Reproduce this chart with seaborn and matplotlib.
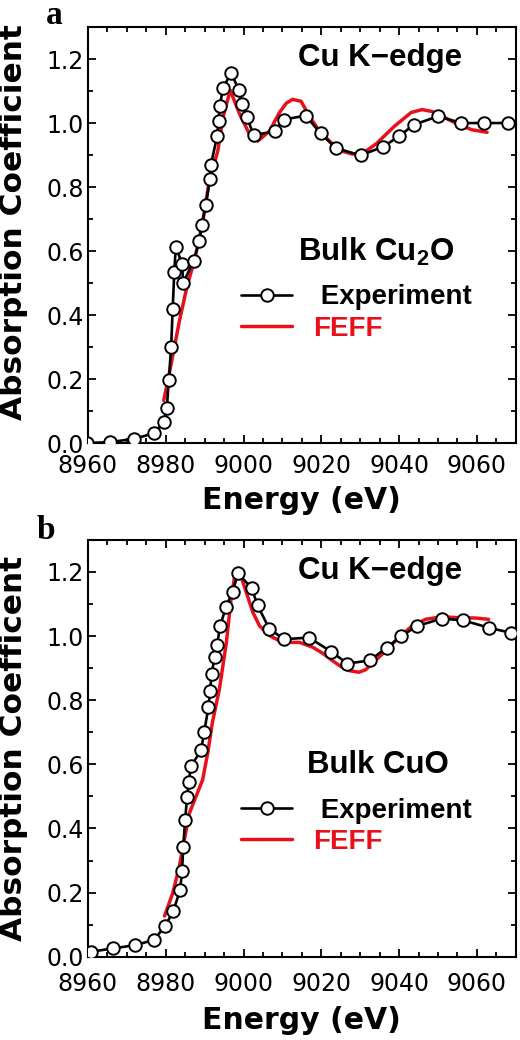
import numpy as np
import pandas as pd
import matplotlib
matplotlib.use('Agg')
import matplotlib.pyplot as plt
import seaborn as sns
from matplotlib.ticker import MultipleLocator
from matplotlib.lines import Line2D

# ---------------- data ----------------
cu2o_exp_e = [8959.8, 8965.8, 8971.8, 8976.9, 8979.5, 8980.3, 8980.8, 8981.4, 8981.8, 8982.2,
              8982.6, 8984.2, 8984.5, 8987.2, 8988.6, 8989.3, 8990.3, 8991.4, 8991.6, 8993.2,
              8993.6, 8993.9, 8994.8, 8996.8, 8998.9, 8999.6, 9000.9, 9002.6, 9008.0, 9010.3,
              9016.0, 9019.8, 9023.7, 9030.1, 9035.9, 9039.9, 9043.8, 9050.0, 9056.0, 9061.7,
              9068.0]
cu2o_exp_mu = [0.0, 0.003, 0.013, 0.03, 0.065, 0.11, 0.198, 0.30, 0.42, 0.533,
               0.614, 0.56, 0.50, 0.57, 0.63, 0.68, 0.745, 0.825, 0.868, 0.958,
               1.007, 1.054, 1.111, 1.156, 1.102, 1.058, 1.018, 0.962, 0.974, 1.011,
               1.023, 0.968, 0.922, 0.899, 0.926, 0.958, 0.995, 1.021, 1.0, 1.0,
               1.0]
cu2o_feff_e = [8979.5, 8980.9, 8983.5, 8985.6, 8987.4, 8989.5, 8991.2, 8993.4, 8994.7, 8996.6,
               8999.0, 9001.5, 9003.7, 9006.7, 9009.2, 9011.0, 9012.6, 9014.8, 9016.9, 9019.5,
               9022.9, 9025.4, 9028.0, 9030.7, 9034.1, 9038.8, 9043.1, 9045.9, 9048.5, 9051.9,
               9055.3, 9058.7, 9062.6]
cu2o_feff_mu = [0.133, 0.216, 0.38, 0.496, 0.57, 0.69, 0.82, 0.913, 1.017, 1.102,
                1.028, 0.966, 0.944, 0.975, 1.032, 1.062, 1.074, 1.068, 1.022, 0.975,
                0.934, 0.912, 0.903, 0.906, 0.935, 0.99, 1.033, 1.042, 1.036, 1.016,
                0.995, 0.979, 0.971]

cuo_exp_e = [8960.9, 8966.4, 8972.0, 8976.9, 8979.9, 8982.0, 8983.7, 8984.2, 8984.5, 8985.0,
             8985.5, 8985.9, 8986.5, 8989.1, 8989.9, 8991.0, 8991.4, 8991.8, 8992.6, 8993.2,
             8994.0, 8995.5, 8997.2, 8998.6, 9002.1, 9003.6, 9006.6, 9010.4, 9016.8, 9022.6,
             9026.7, 9032.5, 9036.8, 9040.6, 9044.6, 9050.9, 9056.4, 9063.0, 9068.7]
cuo_exp_mu = [0.016, 0.026, 0.036, 0.052, 0.096, 0.144, 0.208, 0.266, 0.341, 0.427,
              0.498, 0.544, 0.594, 0.644, 0.701, 0.779, 0.828, 0.882, 0.935, 0.972,
              1.031, 1.091, 1.138, 1.195, 1.149, 1.096, 1.023, 0.99, 0.995, 0.951,
              0.914, 0.924, 0.964, 1.0, 1.031, 1.054, 1.049, 1.026, 1.01]
cuo_feff_e = [8979.7, 8981.8, 8983.5, 8984.8, 8986.1, 8987.8, 8989.5, 8990.8, 8992.0, 8993.8,
              8995.6, 8996.8, 8997.7, 8999.4, 9000.7, 9002.4, 9004.1, 9006.7, 9010.1, 9014.4,
              9017.8, 9020.5, 9022.9, 9025.0, 9027.2, 9029.7, 9031.4, 9035.6, 9039.9, 9043.3,
              9046.8, 9051.0, 9055.3, 9059.6, 9063.0]
cuo_feff_mu = [0.127, 0.198, 0.281, 0.365, 0.448, 0.50, 0.552, 0.635, 0.73, 0.834,
               0.98, 1.116, 1.183, 1.184, 1.137, 1.074, 1.032, 1.001, 0.98, 0.98,
               0.965, 0.945, 0.923, 0.905, 0.892, 0.887, 0.895, 0.943, 0.995, 1.031,
               1.052, 1.06, 1.057, 1.056, 1.052]

x_ticks = [8960, 8980, 9000, 9020, 9040, 9060]
y_ticks = [0.0, 0.2, 0.4, 0.6, 0.8, 1.0, 1.2]
panel_labels = ['a', 'b']
sample_labels = ['Bulk Cu$_{\\mathbf{2}}$O', 'Bulk CuO']
edge_label = 'Cu K\u2212edge'
series_names = [' Experiment', 'FEFF']
x_label = 'Energy (eV)'
y_labels = ['Absorption Coefficient', 'Absorption Coefficent']

# ---------------- style ----------------
sns.set_style('ticks')
plt.rcParams['font.family'] = ['DejaVu Sans']
plt.rcParams['mathtext.fontset'] = 'custom'
plt.rcParams['mathtext.rm'] = 'Liberation Sans:bold'
plt.rcParams['mathtext.bf'] = 'Liberation Sans:bold'
plt.rcParams['axes.linewidth'] = 1.5
plt.rcParams['axes.edgecolor'] = 'black'
plt.rcParams['text.color'] = 'black'
plt.rcParams['axes.labelcolor'] = 'black'
plt.rcParams['xtick.color'] = 'black'
plt.rcParams['ytick.color'] = 'black'
plt.rcParams['xtick.labelcolor'] = 'black'
plt.rcParams['ytick.labelcolor'] = 'black'

RED = '#e8101a'

fig = plt.figure(figsize=(5.2, 10.4), dpi=100)
axes_rects = [[0.169, 0.574, 0.823, 0.400], [0.169, 0.080, 0.823, 0.401]]
panels = [
    (cu2o_exp_e, cu2o_exp_mu, cu2o_feff_e, cu2o_feff_mu),
    (cuo_exp_e, cuo_exp_mu, cuo_feff_e, cuo_feff_mu),
]
panel_label_pos = [(0.104, 0.977), (0.089, 0.482)]
sample_x = [0.492, 0.512]
ylabel_y = [0.531, 0.50]
xlabel_y = [-0.103, -0.118]
xtick_pad = [8, 11]

for i, (ee, em, fe, fm) in enumerate(panels):
    ax = fig.add_axes(axes_rects[i])
    exp_df = pd.DataFrame({'E': ee, 'mu': em})
    feff_df = pd.DataFrame({'E': fe, 'mu': fm})
    sns.lineplot(data=feff_df, x='E', y='mu', ax=ax, color=RED, lw=2.5,
                 estimator=None, sort=False, zorder=2)
    sns.lineplot(data=exp_df, x='E', y='mu', ax=ax, color='black', lw=1.9,
                 marker='o', markersize=9, markerfacecolor='white',
                 markeredgecolor='black', markeredgewidth=1.4,
                 estimator=None, sort=False, zorder=3)
    ax.set_xlim(8960, 9070)
    ax.set_ylim(0, 1.3)
    ax.set_xticks(x_ticks)
    ax.set_yticks(y_ticks)
    ax.set_yticklabels([f'{v:.1f}' for v in y_ticks])
    ax.xaxis.set_minor_locator(MultipleLocator(5))
    ax.yaxis.set_minor_locator(MultipleLocator(0.1))
    ax.tick_params(which='both', direction='in', top=True, right=True, width=1.3,
                   color='black')
    ax.tick_params(which='major', length=6)
    ax.tick_params(which='minor', length=3.5)
    ax.tick_params(axis='x', which='major', labelsize=17, pad=xtick_pad[i])
    ax.tick_params(axis='y', which='major', labelsize=17, pad=3)
    ax.set_xlabel(x_label, fontsize=21.5, fontweight='bold')
    ax.set_ylabel(y_labels[i], fontsize=22.5, fontweight='bold')
    ax.xaxis.set_label_coords(0.5, xlabel_y[i])
    ax.yaxis.set_label_coords(-0.14, ylabel_y[i])
    for sp in ax.spines.values():
        sp.set_visible(True)
        sp.set_linewidth(1.5)

    ax.text(0.49, 0.925, edge_label, transform=ax.transAxes, fontsize=22.5,
            fontweight='bold', family='Liberation Sans', ha='left', va='center')
    ax.text(sample_x[i], 0.46, sample_labels[i], transform=ax.transAxes, fontsize=22.5,
            fontweight='bold', family='Liberation Sans', ha='left', va='center')

    handles = [
        Line2D([], [], color='black', lw=1.9, marker='o', markersize=9,
               markerfacecolor='white', markeredgecolor='black', markeredgewidth=1.4),
        Line2D([], [], color=RED, lw=2.5),
    ]
    leg = ax.legend(handles, series_names, loc='upper left',
                    bbox_to_anchor=(0.345, 0.395), frameon=False,
                    prop={'family': 'Liberation Sans', 'weight': 'bold', 'size': 20},
                    handlelength=1.85, handletextpad=0.75, labelspacing=0.2,
                    borderpad=0.2, borderaxespad=0)
    leg.get_texts()[0].set_color('black')
    leg.get_texts()[1].set_color(RED)

    fig.text(panel_label_pos[i][0], panel_label_pos[i][1], panel_labels[i],
             fontsize=24, fontweight='bold', family='Liberation Serif',
             ha='center', va='baseline')

fig.savefig('out.png', dpi=100)
